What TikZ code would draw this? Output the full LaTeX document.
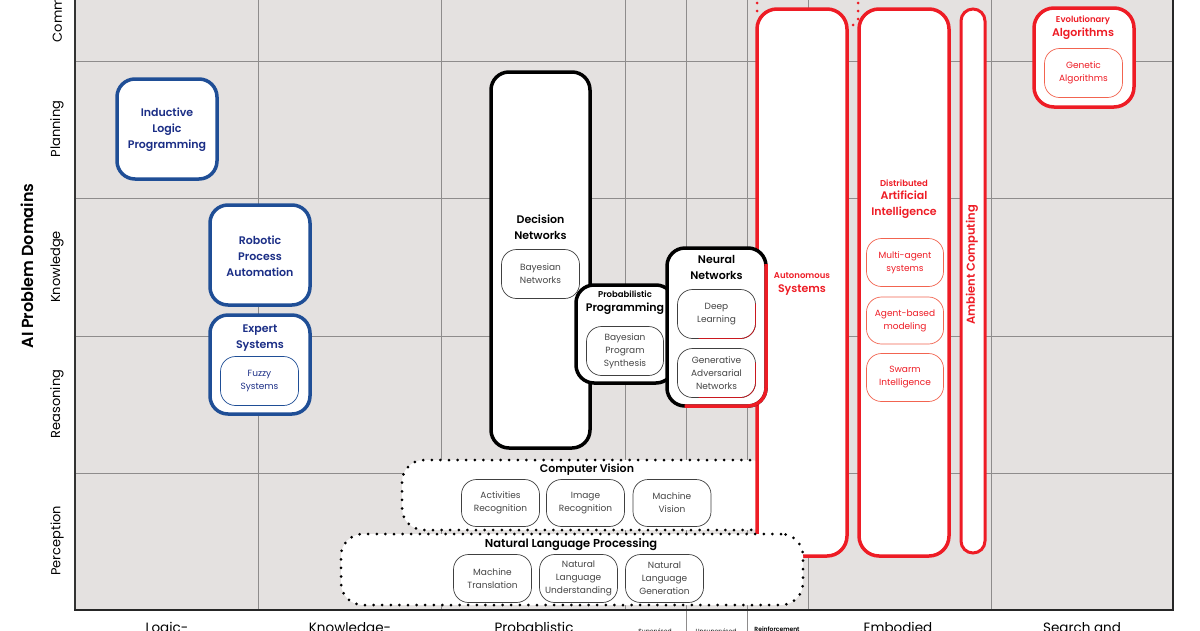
\documentclass[tikz,border=0pt]{standalone}
\usepackage{fontspec}
\setmainfont{Poppins}[BoldFont={Poppins SemiBold}]
\definecolor{gridbg}{HTML}{E4E1E0}
\definecolor{gridln}{HTML}{8E8C8C}
\definecolor{aiblue}{HTML}{1F4E96}
\definecolor{aibluetxt}{HTML}{1B2E86}
\definecolor{aired}{HTML}{EE1C25}
\definecolor{aiinred}{HTML}{F26450}
\definecolor{intxt}{HTML}{454545}
\tikzset{
  outerbox/.style={line width=3.5pt, fill=white, inner sep=0pt, outer sep=0pt},
  bluebox/.style={outerbox, draw=aiblue, rounded corners=18pt},
  blackbox/.style={outerbox, draw=black, rounded corners=18pt},
  redbox/.style={outerbox, draw=aired, rounded corners=20pt},
  dotbox/.style={draw=black, line width=3pt, dash pattern=on 0pt off 8.6pt,
    line cap=round, fill=white, inner sep=0pt, outer sep=0pt, rounded corners=22pt},
  innerbox/.style={line width=0.7pt, fill=white, inner sep=0pt, outer sep=0pt,
    rounded corners=15pt, align=center, font=\fontsize{9}{13}\selectfont},
  ttl/.style={font=\bfseries\fontsize{11}{16}\selectfont, align=center, inner sep=0pt},
  subttl/.style={font=\bfseries\fontsize{8.5}{9}\selectfont, inner sep=0pt},
  axlbl/.style={rotate=90, font=\fontsize{13}{14}\selectfont, inner sep=0pt},
  btmlbl/.style={anchor=base, font=\fontsize{13.5}{14}\selectfont, inner sep=0pt},
  tinylbl/.style={anchor=base, font=\fontsize{6}{7}\selectfont, inner sep=0pt},
  gridline/.style={draw=gridln, line width=0.9pt},
  reddots/.style={aired, line width=3pt, dash pattern=on 0pt off 8pt, line cap=round}
}
\begin{document}
\begin{tikzpicture}[x=1pt,y=-1pt]
  \useasboundingbox (0,0) rectangle (1200,630);
  % grid
  \fill[gridbg] (75,-80) rectangle (1173,610);
  \foreach \gy in {61,198,336,473} \draw[gridline] (75,\gy) -- (1173,\gy);
  \foreach \gx in {258,441,625,686,747,808,991} \draw[gridline] (\gx,-2) -- (\gx,610);
  \foreach \gx in {686,747} \draw[gridline] (\gx,610) -- (\gx,634);
  \draw[line width=1.2pt, black!80] (75,-2) -- (75,611);
  \draw[line width=2pt, black!85] (74,610) -- (1174,610);
  \draw[line width=2pt, black!85] (1173,-2) -- (1173,611);

  % axis labels
  \node[rotate=90, font=\bfseries\fontsize{16}{17}\selectfont] (domains) at (27,266) {AI Problem Domains};
  \node[axlbl] (dcomm) at (57,-11) {Communication};
  \node[axlbl] (dplan) at (57,129) {Planning};
  \node[axlbl] (dknow) at (57,267) {Knowledge};
  \node[axlbl] (dreas) at (57,404) {Reasoning};
  \node[axlbl] (dperc) at (57,541) {Perception};
  \node[btmlbl] (clogic) at (167,632) {Logic-};
  \node[btmlbl] (cknow) at (350,632) {Knowledge-};
  \node[btmlbl] (cprob) at (534,632) {Probablistic};
  \node[tinylbl] (csup) at (655,633) {Supervised};
  \node[tinylbl] (cunsup) at (716,633) {Unsupervised};
  \node[tinylbl, font=\bfseries\fontsize{6}{7}\selectfont] (creinf) at (777,631) {Reinforcement};
  \node[btmlbl] (cemb) at (898,632) {Embodied};
  \node[btmlbl] (csearch) at (1082,632) {Search and};

  % red dotted remnants at top
  \draw[reddots] (757,-5) -- (757,12);
  \draw[reddots] (858,-5) -- (858,20) -- (852,26);

  % logic / knowledge based
  \node[bluebox, minimum width=100pt, minimum height=100pt] (ilp) at (167,129) {};
  \node[ttl, text=aibluetxt] (ilpT) at (167,130) {Inductive\\Logic\\Programming};
  \node[bluebox, minimum width=100pt, minimum height=100pt] (rpa) at (260,255) {};
  \node[ttl, text=aibluetxt] (rpaT) at (260,256) {Robotic\\Process\\Automation};
  \node[bluebox, minimum width=100pt, minimum height=99pt] (expert) at (260,364.5) {};
  \node[ttl, text=aibluetxt] (expertT) at (260,338) {Expert\\Systems};
  \node[innerbox, draw=aiblue, text=aibluetxt, minimum width=78pt, minimum height=49pt] (fuzzy) at (259.5,381) {Fuzzy\\Systems};

  % probabilistic
  \node[blackbox, minimum width=99pt, minimum height=376pt] (decision) at (540.5,260) {};
  \node[ttl] (decisionT) at (540.5,227) {Decision\\Networks};
  \node[innerbox, draw=black!75, text=intxt, minimum width=78pt, minimum height=49pt] (bayesnet) at (540.5,274) {Bayesian\\Networks};
  \node[blackbox, minimum width=98pt, minimum height=98pt] (probprog) at (625,334) {};
  \node[subttl] (probprogS) at (625,294) {Probabilistic};
  \node[ttl] (probprogT) at (625,309) {Programming};
  \node[innerbox, draw=black!75, text=intxt, minimum width=77pt, minimum height=49pt] (bps) at (625,351) {Bayesian\\Program\\Synthesis};

  % computer vision
  \node[dotbox, minimum width=370pt, minimum height=70pt] (cv) at (587,495) {};
  \node[ttl] (cvT) at (587,470) {Computer Vision};
  \node[innerbox, draw=black!75, text=intxt, minimum width=78pt, minimum height=47pt] (cvact) at (500.5,503) {Activities\\Recognition};
  \node[innerbox, draw=black!75, text=intxt, minimum width=78pt, minimum height=47pt] (cvimg) at (585.5,503) {Image\\Recognition};
  \node[innerbox, draw=black!75, text=intxt, minimum width=78pt, minimum height=47pt] (cvmv) at (672,503) {Machine\\Vision};

  % autonomous systems
  \node[redbox, minimum width=90pt, minimum height=547pt] (auto) at (802,282.5) {};

  % neural networks
  \node[blackbox, minimum width=99pt, minimum height=158pt] (neural) at (716.5,327) {};
  \draw[aired, line width=3.5pt, rounded corners=18pt] ([xshift=-32pt]neural.south) -| ([yshift=-16pt]neural.north east);
  \node[ttl] (neuralT) at (716.5,267) {Neural\\Networks};
  \node[innerbox, draw=black!75, text=intxt, minimum width=78pt, minimum height=49pt] (deep) at (716.5,314) {Deep\\Learning};
  \draw[aired!85!black, line width=0.7pt, rounded corners=15pt] ([xshift=-18pt]deep.south) -| ([yshift=-14pt]deep.north east);
  \node[innerbox, draw=black!75, text=intxt, minimum width=78pt, minimum height=49pt] (gan) at (716.5,373) {Generative\\Adversarial\\Networks};
  \draw[aired!85!black, line width=0.7pt, rounded corners=15pt] ([xshift=-18pt]gan.south) -| ([yshift=-14pt]gan.north east);

  % natural language processing
  \node[dotbox, minimum width=462pt, minimum height=71pt] (nlp) at (572,569.5) {};
  \node[ttl, font=\bfseries\fontsize{11.5}{12}\selectfont] (nlpT) at (571,545) {Natural Language Processing};
  \node[innerbox, draw=black!75, text=intxt, minimum width=78pt, minimum height=48pt] (mt) at (492.5,578.5) {Machine\\Translation};
  \node[innerbox, draw=black!75, text=intxt, minimum width=78pt, minimum height=48pt] (nlu) at (578.5,578.5) {Natural\\Language\\Understanding};
  \node[innerbox, draw=black!75, text=intxt, minimum width=78pt, minimum height=48pt] (nlg) at (664.5,578.5) {Natural\\Language\\Generation};

  \node[subttl, text=aired] (autoS) at (802,276) {Autonomous};
  \node[ttl, text=aired] (autoT) at (802,290) {Systems};

  % embodied
  \node[redbox, minimum width=90pt, minimum height=547pt] (dai) at (904,282.5) {};
  \node[subttl, text=aired] (daiS) at (904,183) {Distributed};
  \node[ttl, text=aired] (daiT) at (904,205) {Artificial\\Intelligence};
  \node[innerbox, draw=aiinred, text=aired, minimum width=77pt, minimum height=48pt] (multi) at (905,262.5) {Multi-agent\\systems};
  \node[innerbox, draw=aiinred, text=aired, minimum width=77pt, minimum height=47pt] (abm) at (905,320.5) {Agent-based\\modeling};
  \node[innerbox, draw=aiinred, text=aired, minimum width=77pt, minimum height=48pt] (swarm) at (905,377.5) {Swarm\\Intelligence};
  \node[redbox, line width=3pt, rounded corners=12pt, minimum width=24pt, minimum height=544pt] (ambient) at (973,281) {};
  \node[ttl, font=\bfseries\fontsize{11.5}{12}\selectfont, text=aired, rotate=90] (ambientT) at (972,265) {Ambient Computing};

  % search and optimization
  \node[redbox, minimum width=100pt, minimum height=99pt] (evo) at (1084,57.5) {};
  \node[subttl, text=aired] (evoS) at (1083,20) {Evolutionary};
  \node[ttl, text=aired] (evoT) at (1083,34) {Algorithms};
  \node[innerbox, draw=aiinred, text=aired, minimum width=78pt, minimum height=49pt] (genetic) at (1083.5,73) {Genetic\\Algorithms};
\end{tikzpicture}
\end{document}
